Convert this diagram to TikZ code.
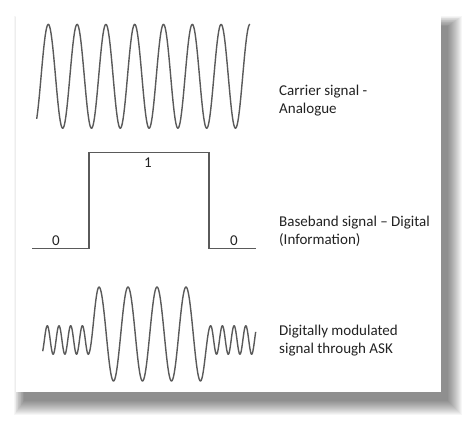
\documentclass[tikz,border=0pt]{standalone}
\usepackage{fontspec}
\setmainfont{Carlito}
\usetikzlibrary{positioning}

\definecolor{wavegray}{HTML}{5A5A5A}
\definecolor{textblack}{HTML}{222222}

\tikzset{
  wave/.style={draw=wavegray, line width=1.4pt, line join=round},
  pulse/.style={draw=wavegray, line width=1.3pt},
  caption/.style={anchor=base west, align=left, inner sep=0pt, text=textblack,
                  font=\fontsize{15}{18}\selectfont},
  bit/.style={text=textblack, inner sep=0pt, font=\fontsize{15}{18}\selectfont}
}

\begin{document}
\begin{tikzpicture}[x=1pt, y=-1pt]
   \useasboundingbox (0,0) rectangle (474,425);
   \fill[white] (0,0) rectangle (474,425);

   % soft shadow behind the card
   \foreach \e in {14,13,...,0}
      \fill[black, opacity=0.034] (24-0.7*\e,26-0.7*\e) rectangle (448+\e,401+\e);
   \fill[white] (16,16) rectangle (441,392);

   % carrier
   \draw[wave] plot[domain=36.7:250, samples=300]
      (\x,{76.3-52*cos((\x-48.3)/28.8*360)});

   % baseband
   \draw[pulse] (32,248.3) -- (89,248.3) -- (89,152.7) -- (209,152.7)
      -- (209,248.3) -- (256,248.3);
   \node[bit] (zero_l) at (56,240.5) {0};
   \node[bit] (one) at (148,162.5) {1};
   \node[bit] (zero_r) at (234,240.5) {0};

   % ASK
   \draw[wave] plot[domain=42.7:88.25, samples=80]
         (\x,{340-14.3*cos((\x-47.3)/11.7*360)})
      cos (93.6,320.6) sin (99,287)
      -- plot[domain=99:200.5, samples=200]
         (\x,{334-47*cos((\x-99)/29*360)})
      cos (205.6,353.5) sin (210.7,325.7)
      -- plot[domain=210.7:255.7, samples=80]
         (\x,{340-14.3*cos((\x-210.7)/11.7*360)});

   % captions (base = last line)
   \node[caption] (carrier) at (279,114) {Carrier signal -\\Analogue};
   \node[caption] (baseband) at (279,244.5) {Baseband signal -- Digital\\(Information)};
   \node[caption] (ask) at (279,353) {Digitally modulated\\signal through ASK};
\end{tikzpicture}
\end{document}
